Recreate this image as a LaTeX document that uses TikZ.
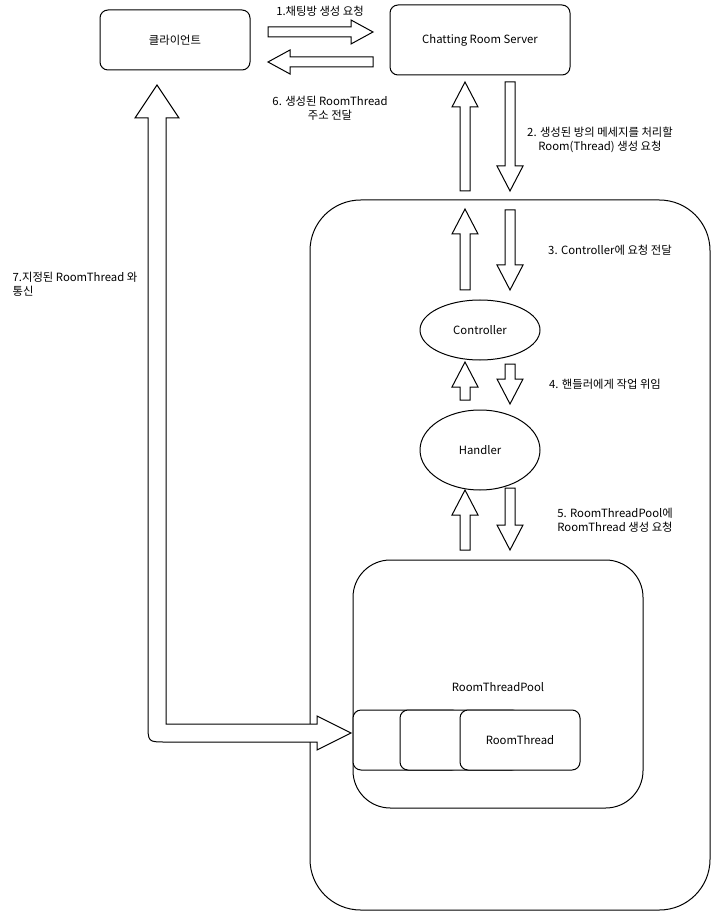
\documentclass[tikz,border=0pt]{standalone}
\usepackage{fontspec}
\setmainfont{Noto Sans CJK KR}
\usetikzlibrary{shapes.geometric}
\tikzset{
  box/.style={draw,rounded corners=6pt,line width=0.75pt,fill=white},
  ell/.style={draw,ellipse,line width=0.75pt},
  blk/.style={draw,line width=0.75pt,fill=white,line join=miter},
  lbl/.style={font=\fontsize{8.5}{10.5}\selectfont,align=center}
}
% vertical block arrow: x, tail y, tip y
\newcommand{\varr}[3]{\draw[blk] let \n1={(#3>#2)?1:-1} in
  (#1-5,#2) -- (#1-5,#3-\n1*25) -- (#1-13,#3-\n1*25) -- (#1,#3) -- (#1+13,#3-\n1*25) -- (#1+5,#3-\n1*25) -- (#1+5,#2) -- cycle;}
\newcommand{\harr}[3]{\draw[blk] let \n1={(#3>#2)?1:-1} in
  (#2,#1-5) -- (#3-\n1*22,#1-5) -- (#3-\n1*22,#1-12) -- (#3,#1) -- (#3-\n1*22,#1+12) -- (#3-\n1*22,#1+5) -- (#2,#1+5) -- cycle;}
\usetikzlibrary{calc}
\begin{document}
\begin{tikzpicture}[x=0.75pt,y=-0.75pt]
\useasboundingbox (0,0) rectangle (711,912);
\draw[box] (100,10) rectangle (250,70);
\node (cl) at (175,40) [lbl] {클라이언트};
\draw[box] (390,5) rectangle (570,75);
\node (srv) at (480,40) [lbl] {Chatting Room Server};
\harr{32}{268}{373}
\harr{62}{373}{268}
\node (l1) at (320,11) [lbl] {1.채팅방 생성 요청};
\node (l6) at (330,108) [lbl] {6. 생성된 RoomThread\\주소 전달};
\varr{465}{191}{82}
\varr{510}{82}{191}
\node (l2) at (600,140) [lbl] {2. 생성된 방의 메세지를 처리할\\Room(Thread) 생성 요청};
\draw[line width=0.75pt,rounded corners=38pt] (310,200) rectangle (710,910);
\varr{465}{290}{209}
\varr{510}{210}{290}
\node (l3) at (610,250) [lbl] {3. Controller에 요청 전달};
\node[ell,minimum width=120*0.75pt,minimum height=60*0.75pt] (ctl) at (480,330) [lbl] {Controller};
\varr{465}{400}{362}
\varr{510}{364}{404}
\node (l4) at (605,384) [lbl] {4. 핸들러에게 작업 위임};
\node[ell,minimum width=120*0.75pt,minimum height=80*0.75pt] (hd) at (480,450) [lbl] {Handler};
\varr{465}{550}{490}
\varr{510}{488}{550}
\node (l5) at (615,520) [lbl] {5. RoomThreadPool에\\RoomThread 생성 요청};
\draw[line width=0.75pt,rounded corners=28pt] (353,560) rectangle (643,808);
\node (pl) at (498,687) [lbl] {RoomThreadPool};
\draw[box] (353,710) rectangle (460,770);
\draw[box] (400,710) rectangle (520,770);
\draw[box] (460,710) rectangle (580,770);
\node (rt) at (520,740) [lbl] {RoomThread};
\node (l7) at (75,284) [lbl,align=left] {7.지정된 RoomThread 와\\통신};
\draw[blk] (157,85) -- (179,118) -- (166,118) -- (166,724) -- (317,724) -- (317,716) -- (351,733) -- (317,750) -- (317,742) -- (166,742) .. controls (148,742) .. (148,724) -- (148,118) -- (135,118) -- cycle;
\end{tikzpicture}
\end{document}
